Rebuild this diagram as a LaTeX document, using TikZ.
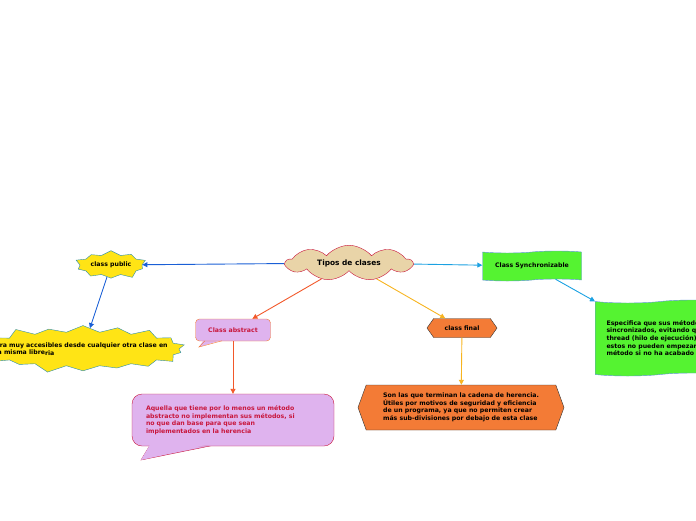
\documentclass[tikz,border=0pt]{standalone}
\usepackage{fontspec}
\setmainfont{DejaVu Sans}
\usetikzlibrary{shapes.symbols,shapes.geometric,shapes.misc,arrows.meta}
\definecolor{cloudf}{HTML}{E9D4A8}
\definecolor{crim}{HTML}{C8163C}
\definecolor{yel}{HTML}{FFE415}
\definecolor{teal}{HTML}{2A8DB0}
\definecolor{lil}{HTML}{DFB3EE}
\definecolor{orf}{HTML}{F37B36}
\definecolor{grn}{HTML}{55F331}
\definecolor{blu}{HTML}{1A5FD6}
\definecolor{red2}{HTML}{F2582A}
\definecolor{gold}{HTML}{F7B420}
\definecolor{cyan2}{HTML}{1BA1E2}
\begin{document}
\begin{tikzpicture}[x=1pt,y=-1pt,
 txt/.style={font=\bfseries\fontsize{6.2}{7.6}\selectfont},
 conn/.style={-{Triangle[length=5pt,width=5pt]},line width=0.9pt}]
\useasboundingbox (0,0) rectangle (696,520);
\clip (0,0) rectangle (696,520);
% center cloud
\node[cloud, cloud puffs=9, cloud puff arc=100, aspect=4, draw=crim, fill=cloudf, minimum width=126pt, minimum height=34pt, inner sep=0pt, font=\bfseries\fontsize{7.4}{9}\selectfont] (c) at (349,263) {Tipos de clases};
% public
\node[starburst, starburst points=10, starburst point height=6pt, draw=teal, fill=yel, minimum width=74pt, minimum height=32pt, inner sep=1pt, txt] (pub) at (111,265) {class public};
\node[starburst, starburst points=18, starburst point height=9pt, draw=teal, fill=yel, minimum width=210pt, minimum height=52pt, inner sep=0pt] (pubd) at (83,349) {};
\node[txt, align=left, anchor=west] at (-8,349) {Era muy accesibles desde cualquier otra clase en\\la misma libre\raisebox{-1pt}{ria}};
% abstract
\fill[lil] (205,338) -- (199,347) -- (222,340) -- cycle;
\node[rounded corners=4pt, draw=orf, fill=lil, minimum width=75pt, minimum height=22pt, txt, text=crim] (abs) at (233,330) {Class abstract};
\draw[orf] (205,340.8) -- (199,347) -- (222,340.8);
\fill[lil,draw=crim] (150,445) -- (141,460) -- (215,445) -- cycle;
\node[rounded corners=10pt, draw=crim, fill=lil, minimum width=202pt, minimum height=52pt, txt, text=crim, align=left, text width=174pt] (absd) at (233,420) {Aquella que tiene por lo menos un método\\abstracto no implementan sus métodos, si\\no que dan base para que sean\\implementados en la herencia};
\fill[lil] (151,443) -- (141,460) -- (214,443) -- cycle;
% final
\node[signal, signal to=west and east, signal pointer angle=110, draw=black!80, fill=orf, minimum width=70pt, minimum height=19pt, inner sep=1pt, txt] (fin) at (462,328) {class final};
\node[signal, signal to=west and east, signal pointer angle=140, draw=black!80, fill=orf, minimum width=206pt, minimum height=45pt, inner sep=1pt, txt, align=left] (find) at (461,407.5) {Son las que terminan la cadena de herencia.\\Útiles por motivos de seguridad y eficiencia\\de un programa, ya que no permiten crear\\más sub-divisiones por debajo de esta clase};
% sync
\node[tape, tape bend height=2pt, draw=blu!70, fill=grn, minimum width=99pt, minimum height=30pt, txt] (syn) at (532,266) {Class Synchronizable};
\node[tape, tape bend height=3pt, draw=blu!70, fill=grn, minimum width=130pt, minimum height=76pt, anchor=west] (synd) at (595,338) {};
\node[txt, align=left, anchor=west] at (603,338) {Especifica que sus métodos son\\sincronizados, evitando que un\\thread (hilo de ejecución) en\\estos no pueden empezar un\\método si no ha acabado otro};
% connectors
\draw[conn, blu] (c) -- (pub);
\draw[conn, blu] (pub) -- (pubd);
\draw[conn, red2] (c) -- (abs);
\draw[conn, red2] (abs) -- (absd);
\draw[conn, gold] (c) -- (fin);
\draw[conn, gold] (fin) -- (find);
\draw[conn, cyan2] (c) -- (syn);
\draw[conn, cyan2] (syn) -- (synd);
\end{tikzpicture}
\end{document}
